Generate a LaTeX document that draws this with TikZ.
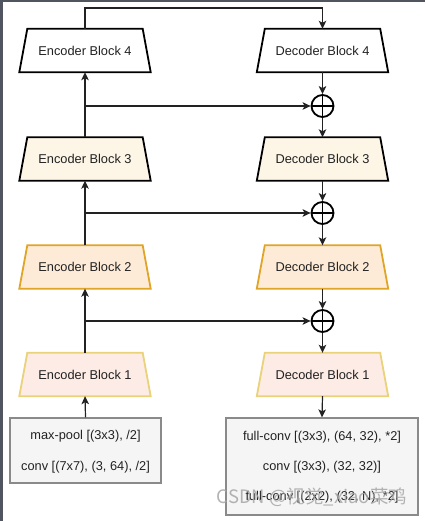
\documentclass[tikz,border=0pt]{standalone}
\usepackage{fontspec}
\setmainfont{Liberation Sans}
\newfontfamily\cjkfont{Noto Sans CJK SC}
\usetikzlibrary{shapes.geometric,arrows.meta,calc}
\pgfdeclarelayer{background}
\pgfsetlayers{background,main}
\definecolor{framegray}{HTML}{50555F}
\definecolor{txt}{HTML}{222222}
\definecolor{fillthree}{HTML}{FDF6E7}
\definecolor{filltwo}{HTML}{FDEBD7}
\definecolor{drawtwo}{HTML}{E0A526}
\definecolor{fillone}{HTML}{FDEBE6}
\definecolor{drawone}{HTML}{E9D27A}
\definecolor{boxfill}{HTML}{F5F5F5}
\definecolor{boxdraw}{HTML}{8A8A8A}
\begin{document}
\begin{tikzpicture}[x=1pt,y=-1pt,
  font=\fontsize{12.8}{15}\selectfont,
  block/.style={rectangle, minimum width=131pt, minimum height=43pt, inner sep=0pt, text=txt},
  trap/.style={line join=miter, line width=1.8pt},
  conn/.style={line width=1.2pt, draw=txt, -{Stealth[length=8pt,width=7.5pt,inset=2pt]}},
  sumnode/.style={circle, draw=black, line width=1.8pt, minimum size=22pt, inner sep=0pt},
  opbox/.style={rectangle, draw=boxdraw, fill=boxfill, line width=1.2pt, inner sep=0pt},
  optext/.style={text=txt, inner sep=0pt}]
\useasboundingbox (0,0) rectangle (425,521);

% encoder
\node[block] (e4) at (85,50.5) {Encoder Block 4};
\node[block] (e3) at (85,159) {Encoder Block 3};
\node[block] (e2) at (85,267) {Encoder Block 2};
\node[block] (e1) at (85,374.5) {Encoder Block 1};
% decoder
\node[block] (d4) at (322.5,50.5) {Decoder Block 4};
\node[block] (d3) at (322.5,159) {Decoder Block 3};
\node[block] (d2) at (322.5,267) {Decoder Block 2};
\node[block] (d1) at (322.5,374.5) {Decoder Block 1};
\begin{pgfonlayer}{background}
\fill[white] (0,0) rectangle (425,521);
\fill[framegray] (0,0) rectangle (2.5,521);
\fill[framegray] (0,0) rectangle (425,2.5);
\foreach \n/\f/\d in {e4/white/black,d4/white/black,e3/fillthree/black,d3/fillthree/black,
  e2/filltwo/drawtwo,d2/filltwo/drawtwo,e1/fillone/drawone,d1/fillone/drawone}{
  \filldraw[trap, fill=\f, draw=\d] (\n.south west) -- ($(\n.north west)+(8,0)$)
    -- ($(\n.north east)+(-8,0)$) -- (\n.south east) -- cycle;
}
\end{pgfonlayer}
% sums
\node[sumnode] (s4) at (322.5,106) {};
\node[sumnode] (s3) at (322.5,213) {};
\node[sumnode] (s2) at (322.5,321) {};
\foreach \s in {s4,s3,s2}{\draw[line width=1.5pt] (\s.north) -- (\s.south) (\s.west) -- (\s.east);}
% boxes
\node[opbox, minimum width=151pt, minimum height=65pt] (lbox) at (85.5,450.5) {};
\node[optext] (l1) at (85.5,436) {max-pool [(3x3), /2]};
\node[optext] (l2) at (85.5,467) {conv [(7x7), (3, 64), /2]};
\node[opbox, minimum width=192pt, minimum height=97pt] (rbox) at (322,466.5) {};
\node[optext] (r1) at (322,437) {full-conv [(3x3), (64, 32), *2]};
\node[optext] (r2) at (322,467) {conv [(3x3), (32, 32)]};
\node[optext] (r3) at (322,497) {full-conv [(2x2), (32, N), *2]};
\node[inner sep=0pt, text=gray!70, opacity=0.85, font=\cjkfont\fontsize{18.5}{20}\selectfont] (wm) at (312,497) {CSDN @视觉\_xiao菜鸡};

% connectors
\coordinate (top) at (200,8);
\draw[conn] (e4.north) |- (top) -| (d4.north);
\draw[conn] (e3.north) -- (e4.south);
\draw[conn] (e2.north) -- (e3.south);
\draw[conn] (e1.north) -- (e2.south);
\draw[conn] (lbox.north) -- (e1.south);
\draw[conn] (e3.north |- s4) -- (s4.west);
\draw[conn] (e2.north |- s3) -- (s3.west);
\draw[conn] (e1.north |- s2) -- (s2.west);
\draw[conn] (d4.south) -- (s4.north);
\draw[conn] (s4.south) -- (d3.north);
\draw[conn] (d3.south) -- (s3.north);
\draw[conn] (s3.south) -- (d2.north);
\draw[conn] (d2.south) -- (s2.north);
\draw[conn] (s2.south) -- (d1.north);
\draw[conn] (d1.south) -- (rbox.north);
\end{tikzpicture}
\end{document}
